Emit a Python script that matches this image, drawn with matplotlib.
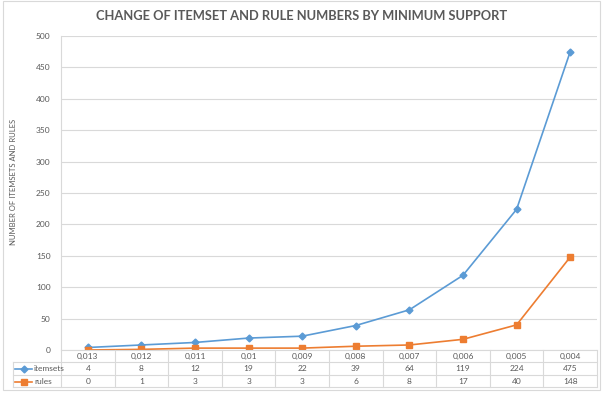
import numpy as np
import matplotlib.pyplot as plt
from matplotlib.lines import Line2D
from matplotlib.patches import Rectangle
from matplotlib.transforms import blended_transform_factory

support = ['0,013', '0,012', '0,011', '0,01', '0,009', '0,008', '0,007', '0,006', '0,005', '0,004']
itemsets = [4, 8, 12, 19, 22, 39, 64, 119, 224, 475]
rules = [0, 1, 3, 3, 3, 6, 8, 17, 40, 148]
yticks = [0, 50, 100, 150, 200, 250, 300, 350, 400, 450, 500]

W, H = 606, 393
blue = '#5B9BD5'
orange = '#ED7D31'
txt = '#595959'
grid = '#D9D9D9'
plt.rcParams['font.family'] = ['Lato', 'DejaVu Sans']


def fx(px):
    return px / W


def fy(py):
    return 1 - py / H


fig = plt.figure(figsize=(W / 100, H / 100), dpi=100)
fig.patches.append(Rectangle((fx(3), fy(390)), fx(597), fy(1) - fy(390),
                             transform=fig.transFigure, fill=False,
                             edgecolor='#D9D9D9', lw=0.8))

ax = fig.add_axes([fx(61), fy(350), fx(597) - fx(61), fy(36) - fy(350)])
x = np.arange(len(support))
ax.plot(x, itemsets, color=blue, lw=1.2, marker='D', ms=3.5, label='itemsets')
ax.plot(x, rules, color=orange, lw=1.2, marker='s', ms=4, label='rules')

ax.set_xlim(-0.5, len(support) - 0.5)
ax.set_ylim(0, 500)
ax.set_yticks(yticks)
ax.set_xticks([])
ax.tick_params(axis='y', length=0, labelsize=6, labelcolor=txt, pad=7.5)
ax.yaxis.grid(True, color=grid, lw=0.8)
ax.set_axisbelow(True)
for s in ['top', 'right', 'bottom']:
    ax.spines[s].set_visible(False)
ax.spines['left'].set_color(grid)
ax.spines['left'].set_linewidth(0.8)

fig.text(fx(302), fy(16), 'CHANGE OF ITEMSET AND RULE NUMBERS BY MINIMUM SUPPORT',
         ha='center', va='center', fontsize=9.3, fontweight='bold', color=txt)
fig.text(fx(14), fy(182), 'NUMBER OF ITEMSETS AND RULES', rotation=90,
         ha='center', va='center', fontsize=5.5, color=txt)

# data table under the plot
tr = blended_transform_factory(ax.transData, fig.transFigure)
rows_y = [fy(350), fy(362), fy(375), fy(387)]
for yy in rows_y:
    x0 = fx(61) if yy == rows_y[0] else fx(13)
    fig.add_artist(Line2D([x0, fx(597)], [yy, yy], color=grid, lw=0.8,
                          transform=fig.transFigure))
for b in np.arange(len(support) + 1) - 0.5:
    fig.add_artist(Line2D([b, b], [rows_y[0], rows_y[3]], color=grid, lw=0.8,
                          transform=tr))
fig.add_artist(Line2D([fx(13), fx(13)], [rows_y[1], rows_y[3]], color=grid,
                      lw=0.8, transform=fig.transFigure))

for i in range(len(support)):
    fig.text(x[i], fy(356), support[i], transform=tr, ha='center', va='center',
             fontsize=6, color=txt)
    fig.text(x[i], fy(368.5), str(itemsets[i]), transform=tr, ha='center',
             va='center', fontsize=6, color=txt)
    fig.text(x[i], fy(381.5), str(rules[i]), transform=tr, ha='center',
             va='center', fontsize=6, color=txt)

for name, yy, c, m, ms in [('itemsets', 368.5, blue, 'D', 3.5),
                           ('rules', 381.5, orange, 's', 4)]:
    fig.add_artist(Line2D([fx(15), fx(32)], [fy(yy), fy(yy)], color=c, lw=1.2,
                          transform=fig.transFigure))
    fig.add_artist(Line2D([fx(23.5)], [fy(yy)], color=c, marker=m, ms=ms,
                          transform=fig.transFigure))
    fig.text(fx(34), fy(yy), name, ha='left', va='center', fontsize=6, color=txt)

fig.savefig('out.png', dpi=100)
